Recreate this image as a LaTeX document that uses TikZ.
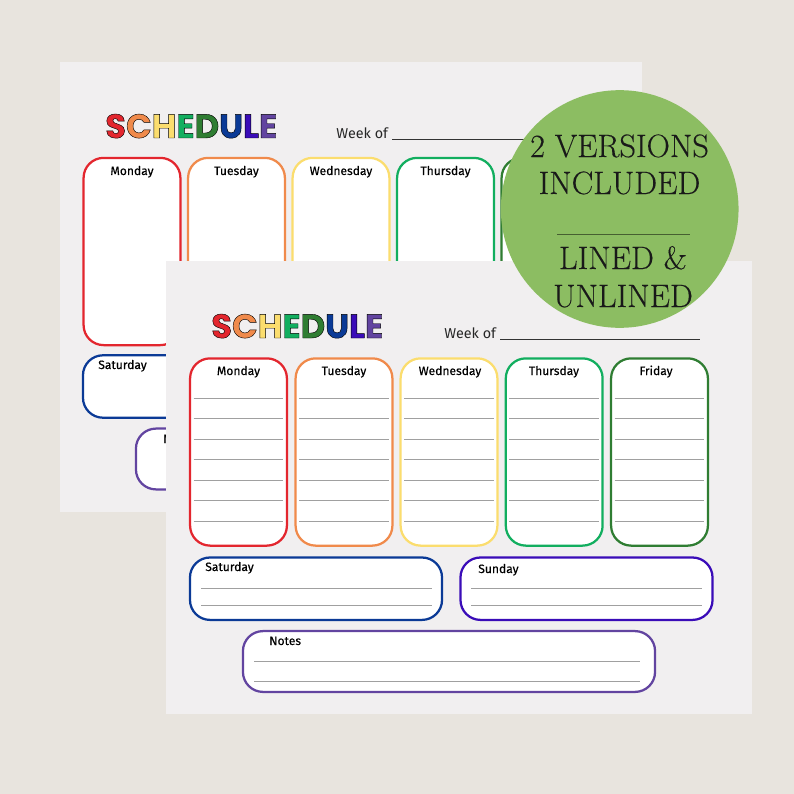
\documentclass[tikz,border=0pt]{standalone}
\usepackage{fontspec}
\usepackage{xcolor}
\newfontfamily\dayfont[FakeBold=0.35]{Fira Sans}
\newfontfamily\weekfont{Fira Sans}
\newfontfamily\titlefont{Poppins}
\newfontfamily\badgefont[FakeBold=0.25]{Latin Modern Roman}
\definecolor{wall}{HTML}{E8E4DE}
\definecolor{sheet}{HTML}{F1EFF0}
\definecolor{badge}{HTML}{8CBD62}
\definecolor{rule}{HTML}{A0A0A0}
\definecolor{redline}{HTML}{E3262E}
\definecolor{orangeline}{HTML}{F08A4B}
\definecolor{yellowline}{HTML}{FBDD6E}
\definecolor{greenline}{HTML}{12AE5F}
\definecolor{forestline}{HTML}{2F7D32}
\definecolor{navyline}{HTML}{0B3A96}
\definecolor{indigoline}{HTML}{3A0CB8}
\definecolor{purpleline}{HTML}{6244A0}
\newcommand{\outlined}[2]{\textcolor{#1}{\special{pdf:code 2 Tr 0.3 w 0 0 0 RG}#2\special{pdf:code 0 Tr}}}
\newcommand{\schedword}{\titlefont\bfseries\outlined{redline}{S}\outlined{orangeline}{C}\outlined{yellowline}{H}\outlined{greenline}{E}\outlined{forestline}{D}\outlined{navyline}{U}\outlined{indigoline}{L}\outlined{purpleline}{E}}
\begin{document}
\begin{tikzpicture}[x=0.025cm, y=-0.025cm,
    daybox/.style={draw, fill=white, rounded corners=0.5cm, line width=1.6pt, inner sep=0pt, minimum width=2.42cm, minimum height=4.68cm},
    widebox/.style={daybox, minimum width=6.3cm, minimum height=1.56cm},
    notebox/.style={daybox, minimum width=10.3cm, minimum height=1.52cm},
    daylabel/.style={font=\dayfont\fontsize{8.6pt}{10pt}\selectfont, text=black, inner sep=0pt, anchor=base},
    sidelabel/.style={daylabel, anchor=base west},
    weeklabel/.style={font=\weekfont\fontsize{10.2pt}{12pt}\selectfont, text=black!85, inner sep=0pt, anchor=base west},
    titlelabel/.style={font=\fontsize{24pt}{26pt}\selectfont, inner sep=0pt, anchor=base west},
    badgelabel/.style={font=\badgefont\fontsize{23pt}{26pt}\selectfont, text=black!90, inner sep=0pt, anchor=base},
    lined/.style={draw=rule, line width=0.7pt}]
  \useasboundingbox (0,0) rectangle (794,794);
  \fill [wall] (0,0) rectangle (794,794);
  % back sheet
  \fill [sheet] (60,62) rectangle (642,512);
  \node [titlelabel] (backtitle) at (105,138) {\schedword};
  \node [weeklabel] (backweek) at (336,138.5) {Week of};
  \coordinate (backweekend) at (530,139.5);
  \draw [black!80, line width=0.6pt] (392,139.5) -- (backweekend);
  \node [daybox, draw=redline] (backmon) at (132,251.5) {};
  \node [daybox, draw=orangeline] (backtue) at (236.5,251.5) {};
  \node [daybox, draw=yellowline] (backwed) at (341,251.5) {};
  \node [daybox, draw=greenline] (backthu) at (445.5,251.5) {};
  \node [daybox, draw=forestline] (backfri) at (550,251.5) {};
  \node [widebox, draw=navyline] (backsat) at (209,386.5) {};
  \node [notebox, draw=purpleline] (backnotes) at (342,459) {};
  \node [daylabel] at (132,175) {Monday};
  \node [daylabel] at (236.5,175) {Tuesday};
  \node [daylabel] at (341,175) {Wednesday};
  \node [daylabel] at (445.5,175) {Thursday};
  \node [sidelabel] at (98,369) {Saturday};
  \node [sidelabel] at (163,443) {Notes};
  % front sheet
  \fill [sheet] (166,261) rectangle (752,714);
  \node [titlelabel] (fronttitle) at (211,338) {\schedword};
  \node [weeklabel] (frontweek) at (444,338.5) {Week of};
  \coordinate (frontweekstart) at (500,339.5);
  \coordinate (frontweekend) at (700,339.5);
  \draw [black!80, line width=0.6pt] (frontweekstart) -- (frontweekend);
  \node [daybox, draw=redline] (mon) at (238.5,452) {};
  \node [daybox, draw=orangeline] (tue) at (344,452) {};
  \node [daybox, draw=yellowline] (wed) at (449,452) {};
  \node [daybox, draw=greenline] (thu) at (554.2,452) {};
  \node [daybox, draw=forestline] (fri) at (659.5,452) {};
  \node [widebox, draw=navyline] (sat) at (316,588.7) {};
  \node [widebox, draw=indigoline] (sun) at (586.5,588.7) {};
  \node [notebox, draw=purpleline] (notes) at (449,661.5) {};
  \node [daylabel] at (238.5,375) {Monday};
  \node [daylabel] at (344,375) {Tuesday};
  \node [daylabel] at (450,375) {Wednesday};
  \node [daylabel] at (554,375) {Thursday};
  \node [daylabel] at (656,375) {Friday};
  \node [sidelabel] at (205,571) {Saturday};
  \node [sidelabel] at (478,573) {Sunday};
  \node [sidelabel] at (269,645) {Notes};
  \foreach \col in {mon,tue,wed,thu,fri}
    \foreach \row in {398,418.5,439,459.5,480,500.5,521.5}
      \draw [lined] ([xshift=-1.12cm]\col.center |- 0,\row) -- ([xshift=1.12cm]\col.center |- 0,\row);
  \foreach \row in {588.5,605} {
    \draw [lined] (201,\row) -- (432,\row);
    \draw [lined] (471,\row) -- (702,\row);
  }
  \draw [lined] (254,661.5) -- (640,661.5);
  \draw [lined] (254,681) -- (640,681);
  % badge
  \node [circle, fill=badge, minimum size=5.94cm, inner sep=0pt] (badgedisc) at (619.7,209) {};
  \node [badgelabel] (two) at (619.5,157) {2 VERSIONS};
  \node [badgelabel] (incl) at (619.5,194) {INCLUDED};
  \draw [black!50!badge, line width=0.5pt] (557,234) -- (690,234);
  \node [badgelabel] (lined) at (623,269) {LINED \&};
  \node [badgelabel] (unlined) at (623,307) {UNLINED};
\end{tikzpicture}
\end{document}
